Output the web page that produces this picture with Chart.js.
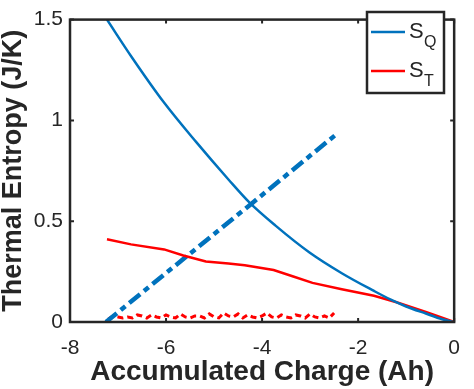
<!DOCTYPE html>
<html>
<head>
<meta charset="utf-8">
<script src="https://cdn.jsdelivr.net/npm/chart.js@4"></script>
<style>
  html, body { margin: 0; padding: 0; background: #fff; }
  #wrap { width: 474px; height: 389px; }
</style>
</head>
<body>
<div id="wrap"><canvas id="chart" width="474" height="389"></canvas></div>
<script>
// Data
const xTicks = [-8, -6, -4, -2, 0];
const yTicks = [0, 0.5, 1, 1.5];

// S_Q (solid blue)
const sqX = [-7.23, -6.72, -6.05, -5.37, -4.70, -4.26, -3.72, -3.02, -2.34, -1.67, -1.33, -1.0, -0.59, -0.25, 0];
const sqY = [1.5, 1.316, 1.091, 0.892, 0.707, 0.592, 0.478, 0.346, 0.242, 0.154, 0.112, 0.077, 0.042, 0.014, 0];

// S_T (solid red)
const stX = [-7.23, -6.73, -6.04, -5.64, -5.17, -4.7, -4.36, -3.76, -3.35, -2.95, -2.34, -1.67, -1.2, -0.59, 0];
const stY = [0.41, 0.385, 0.36, 0.33, 0.30, 0.29, 0.282, 0.258, 0.226, 0.194, 0.162, 0.13, 0.098, 0.05, 0];

// dashed blue (dash-dot)
const qdX = [-7.25, -6.02, -4.22, -2.46];
const qdY = [0, 0.239, 0.587, 0.93];

// dashed red (noisy, near zero)
const tdX = [-7.2, -7.1, -7.0, -6.9, -6.8, -6.7, -6.6, -6.5, -6.4, -6.3, -6.2, -6.1, -6.0, -5.9, -5.8, -5.7, -5.6, -5.5, -5.4, -5.3, -5.2, -5.1, -5.0, -4.9, -4.8, -4.7, -4.6, -4.5, -4.4, -4.3, -4.2, -4.1, -4.0, -3.9, -3.8, -3.7, -3.6, -3.5, -3.4, -3.3, -3.2, -3.1, -3.0, -2.9, -2.8, -2.7, -2.6, -2.5];
const tdY = [0.015, 0.03, 0.025, 0.02, 0.025, 0.02, 0.035, 0.03, 0.02, 0.035, 0.025, 0.02, 0.035, 0.025, 0.02, 0.04, 0.025, 0.02, 0.03, 0.03, 0.02, 0.04, 0.025, 0.02, 0.045, 0.03, 0.025, 0.04, 0.02, 0.035, 0.025, 0.02, 0.03, 0.045, 0.025, 0.02, 0.035, 0.025, 0.02, 0.035, 0.03, 0.02, 0.04, 0.025, 0.02, 0.03, 0.02, 0.045];

const blue = '#0072BD';
const red = '#FF0000';
const ink = '#262626';

const pts = (xs, ys) => xs.map((x, i) => ({ x: x, y: ys[i] }));

// box + inward ticks + legend (MATLAB look)
const boxPlugin = {
  id: 'box',
  afterDraw: (chart) => {
    const ctx = chart.ctx;
    const a = chart.chartArea;
    const xs = chart.scales.x;
    const ys = chart.scales.y;
    ctx.save();
    ctx.strokeStyle = ink;
    ctx.lineWidth = 2.5;
    ctx.strokeRect(a.left, a.top, a.right - a.left, a.bottom - a.top);

    // inward ticks
    ctx.lineWidth = 2;
    const tl = 4;
    xTicks.forEach(v => {
      const px = xs.getPixelForValue(v);
      ctx.beginPath();
      ctx.moveTo(px, a.bottom); ctx.lineTo(px, a.bottom - tl);
      ctx.moveTo(px, a.top); ctx.lineTo(px, a.top + tl);
      ctx.stroke();
    });
    yTicks.forEach(v => {
      const py = ys.getPixelForValue(v);
      ctx.beginPath();
      ctx.moveTo(a.left, py); ctx.lineTo(a.left + tl, py);
      ctx.moveTo(a.right, py); ctx.lineTo(a.right - tl, py);
      ctx.stroke();
    });

    // legend
    const lx = 367, ly = 12, lw = 77, lh = 81;
    ctx.fillStyle = '#fff';
    ctx.fillRect(lx, ly, lw, lh);
    ctx.lineWidth = 2.5;
    ctx.strokeStyle = ink;
    ctx.strokeRect(lx, ly, lw, lh);
    const items = [
      { c: blue, sub: 'Q', y: 32 },
      { c: red, sub: 'T', y: 71 }
    ];
    items.forEach(it => {
      ctx.strokeStyle = it.c;
      ctx.lineWidth = 2.5;
      ctx.beginPath();
      ctx.moveTo(371, it.y); ctx.lineTo(405, it.y);
      ctx.stroke();
      ctx.fillStyle = ink;
      ctx.textBaseline = 'middle';
      ctx.textAlign = 'left';
      ctx.font = '22px "Liberation Sans", Arial, sans-serif';
      ctx.fillText('S', 409, it.y);
      ctx.font = '16px "Liberation Sans", Arial, sans-serif';
      ctx.fillText(it.sub, 424, it.y + 11);
    });
    ctx.restore();
  }
};

const tickFont = { family: '"Liberation Sans", Arial, sans-serif', size: 21 };

new Chart(document.getElementById('chart'), {
  type: 'line',
  data: {
    datasets: [
      { data: pts(sqX, sqY), borderColor: blue, borderWidth: 2.5, pointRadius: 0, cubicInterpolationMode: 'monotone', fill: false },
      { data: pts(stX, stY), borderColor: red, borderWidth: 2.5, pointRadius: 0, tension: 0, fill: false },
      { data: pts(qdX, qdY), borderColor: blue, borderWidth: 4.5, borderDash: [14, 5, 6, 5], pointRadius: 0, tension: 0, fill: false },
      { data: pts(tdX, tdY), borderColor: red, borderWidth: 3, borderDash: [6, 4], pointRadius: 0, tension: 0, fill: false }
    ]
  },
  options: {
    responsive: false,
    animation: false,
    layout: { padding: { top: 10, right: 8, left: 0, bottom: 0 } },
    plugins: { legend: { display: false }, tooltip: { enabled: false } },
    scales: {
      x: {
        type: 'linear',
        min: -8, max: 0,
        afterFit: (s) => { s.height = 67; },
        afterBuildTicks: (s) => { s.ticks = xTicks.map(v => ({ value: v })); },
        grid: { display: false, drawTicks: false },
        border: { display: false },
        ticks: { color: ink, font: tickFont, padding: 14, maxRotation: 0, callback: (v) => String(v) },
        title: { display: true, text: 'Accumulated Charge (Ah)', color: ink,
                 font: { family: '"Liberation Sans", Arial, sans-serif', size: 28, weight: 'bold' },
                 padding: { top: 0, bottom: 0 } }
      },
      y: {
        min: 0, max: 1.5,
        afterFit: (s) => { s.width = 70; },
        afterBuildTicks: (s) => { s.ticks = yTicks.map(v => ({ value: v })); },
        grid: { display: false, drawTicks: false },
        border: { display: false },
        ticks: { color: ink, font: tickFont, padding: 7, callback: (v) => String(v) },
        title: { display: true, text: 'Thermal Entropy (J/K)', color: ink,
                 font: { family: '"Liberation Sans", Arial, sans-serif', size: 27, weight: 'bold' },
                 padding: { top: -3, bottom: 0 } }
      }
    }
  },
  plugins: [boxPlugin]
});
</script>
</body>
</html>
